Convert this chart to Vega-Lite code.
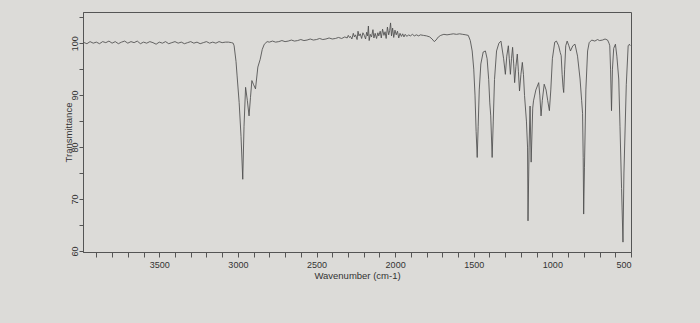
{
  "$schema": "https://vega.github.io/schema/vega-lite/v6.json",
  "width": 548,
  "height": 240,
  "autosize": {"type": "none"},
  "padding": {"left": 83, "top": 12, "right": 69, "bottom": 71},
  "background": "#dcdbd8",
  "config": {"view": {"stroke": "#555555", "strokeWidth": 1}, "font": "Liberation Sans"},
  "data": {"values": [
    {"wn": 3985, "t": 100.2}, {"wn": 3960, "t": 99.9}, {"wn": 3940, "t": 100.3}, {"wn": 3920, "t": 100.0}, {"wn": 3900, "t": 100.2},
    {"wn": 3880, "t": 99.9}, {"wn": 3860, "t": 100.3}, {"wn": 3840, "t": 100.1}, {"wn": 3820, "t": 100.4}, {"wn": 3800, "t": 100.0},
    {"wn": 3780, "t": 100.3}, {"wn": 3760, "t": 99.9}, {"wn": 3740, "t": 100.2}, {"wn": 3720, "t": 100.4}, {"wn": 3700, "t": 100.0},
    {"wn": 3680, "t": 100.3}, {"wn": 3660, "t": 100.1}, {"wn": 3640, "t": 100.4}, {"wn": 3620, "t": 99.9}, {"wn": 3600, "t": 100.2},
    {"wn": 3580, "t": 100.0}, {"wn": 3560, "t": 100.3}, {"wn": 3540, "t": 100.1}, {"wn": 3520, "t": 99.8}, {"wn": 3500, "t": 100.2},
    {"wn": 3480, "t": 100.0}, {"wn": 3460, "t": 100.3}, {"wn": 3440, "t": 99.9}, {"wn": 3420, "t": 100.1}, {"wn": 3400, "t": 100.3},
    {"wn": 3380, "t": 100.0}, {"wn": 3360, "t": 100.2}, {"wn": 3340, "t": 99.9}, {"wn": 3320, "t": 100.1}, {"wn": 3300, "t": 100.3},
    {"wn": 3280, "t": 100.0}, {"wn": 3260, "t": 100.2}, {"wn": 3240, "t": 99.9}, {"wn": 3220, "t": 100.1}, {"wn": 3200, "t": 100.3},
    {"wn": 3180, "t": 100.0}, {"wn": 3160, "t": 100.2}, {"wn": 3140, "t": 100.0}, {"wn": 3120, "t": 100.3}, {"wn": 3100, "t": 100.1},
    {"wn": 3080, "t": 100.2}, {"wn": 3060, "t": 100.2}, {"wn": 3040, "t": 100.1}, {"wn": 3030, "t": 100.0},
    {"wn": 3024, "t": 99.5}, {"wn": 3012, "t": 96.5}, {"wn": 3005, "t": 93.7}, {"wn": 2992, "t": 88.6}, {"wn": 2980, "t": 82.0},
    {"wn": 2969, "t": 73.8}, {"wn": 2961, "t": 84.0}, {"wn": 2951, "t": 91.5}, {"wn": 2940, "t": 89.0}, {"wn": 2929, "t": 86.0},
    {"wn": 2920, "t": 89.5}, {"wn": 2911, "t": 92.8}, {"wn": 2900, "t": 92.0}, {"wn": 2888, "t": 91.2}, {"wn": 2873, "t": 95.4},
    {"wn": 2858, "t": 96.9}, {"wn": 2845, "t": 98.8}, {"wn": 2832, "t": 99.8}, {"wn": 2814, "t": 100.3},
    {"wn": 2800, "t": 100.2}, {"wn": 2780, "t": 100.4}, {"wn": 2760, "t": 100.2}, {"wn": 2740, "t": 100.3}, {"wn": 2720, "t": 100.5},
    {"wn": 2700, "t": 100.3}, {"wn": 2680, "t": 100.4}, {"wn": 2660, "t": 100.6}, {"wn": 2640, "t": 100.4}, {"wn": 2620, "t": 100.5},
    {"wn": 2600, "t": 100.7}, {"wn": 2580, "t": 100.5}, {"wn": 2560, "t": 100.6}, {"wn": 2540, "t": 100.8}, {"wn": 2520, "t": 100.6},
    {"wn": 2500, "t": 100.7}, {"wn": 2480, "t": 100.9}, {"wn": 2460, "t": 100.7}, {"wn": 2440, "t": 100.8}, {"wn": 2420, "t": 101.0},
    {"wn": 2400, "t": 100.8}, {"wn": 2380, "t": 100.9}, {"wn": 2360, "t": 101.1}, {"wn": 2340, "t": 100.9}, {"wn": 2320, "t": 101.2},
    {"wn": 2305, "t": 101.0},
    {"wn": 2298, "t": 101.5}, {"wn": 2290, "t": 101.1}, {"wn": 2284, "t": 101.3}, {"wn": 2275, "t": 100.8}, {"wn": 2266, "t": 101.9},
    {"wn": 2259, "t": 101.2}, {"wn": 2252, "t": 101.6}, {"wn": 2242, "t": 100.7}, {"wn": 2236, "t": 102.3}, {"wn": 2230, "t": 101.4},
    {"wn": 2222, "t": 101.8}, {"wn": 2213, "t": 100.9}, {"wn": 2205, "t": 102.0}, {"wn": 2196, "t": 101.5}, {"wn": 2188, "t": 100.8},
    {"wn": 2181, "t": 102.1}, {"wn": 2175, "t": 101.4}, {"wn": 2170, "t": 103.3}, {"wn": 2165, "t": 100.5}, {"wn": 2158, "t": 101.7},
    {"wn": 2150, "t": 101.2}, {"wn": 2141, "t": 102.6}, {"wn": 2135, "t": 101.0}, {"wn": 2127, "t": 101.9}, {"wn": 2118, "t": 100.9},
    {"wn": 2110, "t": 102.0}, {"wn": 2104, "t": 101.4}, {"wn": 2095, "t": 102.3}, {"wn": 2088, "t": 101.0}, {"wn": 2080, "t": 102.7},
    {"wn": 2071, "t": 101.5}, {"wn": 2064, "t": 102.2}, {"wn": 2057, "t": 100.9}, {"wn": 2049, "t": 103.1}, {"wn": 2041, "t": 101.6},
    {"wn": 2035, "t": 102.4}, {"wn": 2029, "t": 103.9}, {"wn": 2023, "t": 101.4}, {"wn": 2016, "t": 102.9}, {"wn": 2009, "t": 101.1},
    {"wn": 2001, "t": 102.5}, {"wn": 1993, "t": 101.6}, {"wn": 1985, "t": 102.3}, {"wn": 1977, "t": 101.0}, {"wn": 1969, "t": 101.9},
    {"wn": 1960, "t": 101.3}, {"wn": 1952, "t": 101.8}, {"wn": 1944, "t": 101.2}, {"wn": 1936, "t": 101.7}, {"wn": 1925, "t": 101.3},
    {"wn": 1915, "t": 101.6}, {"wn": 1903, "t": 101.4}, {"wn": 1890, "t": 101.7}, {"wn": 1878, "t": 101.4}, {"wn": 1865, "t": 101.6},
    {"wn": 1850, "t": 101.4}, {"wn": 1840, "t": 101.6}, {"wn": 1820, "t": 101.5}, {"wn": 1800, "t": 101.4}, {"wn": 1780, "t": 101.2},
    {"wn": 1765, "t": 100.8}, {"wn": 1751, "t": 100.3}, {"wn": 1740, "t": 100.6}, {"wn": 1725, "t": 101.2}, {"wn": 1710, "t": 101.5},
    {"wn": 1690, "t": 101.7}, {"wn": 1670, "t": 101.6}, {"wn": 1650, "t": 101.7}, {"wn": 1630, "t": 101.8}, {"wn": 1610, "t": 101.7},
    {"wn": 1590, "t": 101.8}, {"wn": 1570, "t": 101.7}, {"wn": 1550, "t": 101.6}, {"wn": 1535, "t": 101.5}, {"wn": 1522, "t": 100.5},
    {"wn": 1510, "t": 98.5}, {"wn": 1500, "t": 95.0}, {"wn": 1492, "t": 90.0}, {"wn": 1485, "t": 83.0}, {"wn": 1478, "t": 78.0},
    {"wn": 1472, "t": 84.0}, {"wn": 1465, "t": 91.0}, {"wn": 1455, "t": 96.0}, {"wn": 1440, "t": 98.3}, {"wn": 1426, "t": 98.5},
    {"wn": 1415, "t": 97.0}, {"wn": 1405, "t": 93.0}, {"wn": 1398, "t": 88.5}, {"wn": 1392, "t": 86.0}, {"wn": 1383, "t": 78.0},
    {"wn": 1376, "t": 85.0}, {"wn": 1368, "t": 93.0}, {"wn": 1355, "t": 98.5}, {"wn": 1340, "t": 100.0}, {"wn": 1327, "t": 100.4},
    {"wn": 1310, "t": 97.0}, {"wn": 1299, "t": 94.0}, {"wn": 1290, "t": 97.5}, {"wn": 1280, "t": 99.5}, {"wn": 1274, "t": 97.0},
    {"wn": 1267, "t": 94.0}, {"wn": 1260, "t": 97.0}, {"wn": 1253, "t": 99.2}, {"wn": 1246, "t": 96.0}, {"wn": 1240, "t": 92.4},
    {"wn": 1232, "t": 95.5}, {"wn": 1223, "t": 97.9}, {"wn": 1216, "t": 94.5}, {"wn": 1209, "t": 90.8}, {"wn": 1200, "t": 94.0},
    {"wn": 1191, "t": 96.3}, {"wn": 1184, "t": 94.0}, {"wn": 1177, "t": 89.9}, {"wn": 1165, "t": 85.0}, {"wn": 1158, "t": 80.0},
    {"wn": 1155, "t": 65.8}, {"wn": 1148, "t": 80.0}, {"wn": 1142, "t": 87.9}, {"wn": 1135, "t": 77.1}, {"wn": 1125, "t": 87.5},
    {"wn": 1120, "t": 88.9}, {"wn": 1105, "t": 91.0}, {"wn": 1087, "t": 92.4}, {"wn": 1080, "t": 90.0}, {"wn": 1072, "t": 86.0},
    {"wn": 1064, "t": 89.0}, {"wn": 1052, "t": 92.1}, {"wn": 1040, "t": 91.0}, {"wn": 1030, "t": 89.0}, {"wn": 1019, "t": 87.0},
    {"wn": 1010, "t": 91.0}, {"wn": 1000, "t": 97.0}, {"wn": 985, "t": 100.2}, {"wn": 974, "t": 100.4}, {"wn": 960, "t": 99.5},
    {"wn": 950, "t": 98.2}, {"wn": 944, "t": 97.6}, {"wn": 938, "t": 94.0}, {"wn": 932, "t": 91.5}, {"wn": 928, "t": 90.5},
    {"wn": 922, "t": 95.0}, {"wn": 915, "t": 99.5}, {"wn": 906, "t": 100.4}, {"wn": 895, "t": 99.5}, {"wn": 885, "t": 98.5},
    {"wn": 870, "t": 99.5}, {"wn": 856, "t": 99.8}, {"wn": 840, "t": 97.5}, {"wn": 824, "t": 93.1}, {"wn": 814, "t": 89.0},
    {"wn": 808, "t": 86.5}, {"wn": 804, "t": 78.0}, {"wn": 801, "t": 67.1}, {"wn": 796, "t": 76.0}, {"wn": 787, "t": 91.0},
    {"wn": 776, "t": 98.5}, {"wn": 766, "t": 100.1}, {"wn": 750, "t": 100.6}, {"wn": 730, "t": 100.4}, {"wn": 713, "t": 100.7},
    {"wn": 700, "t": 100.5}, {"wn": 681, "t": 100.6}, {"wn": 665, "t": 100.8}, {"wn": 649, "t": 100.6}, {"wn": 640, "t": 100.0},
    {"wn": 635, "t": 99.5}, {"wn": 630, "t": 95.0}, {"wn": 624, "t": 87.0}, {"wn": 618, "t": 95.0}, {"wn": 610, "t": 99.0},
    {"wn": 599, "t": 99.8}, {"wn": 590, "t": 97.5}, {"wn": 578, "t": 93.1}, {"wn": 570, "t": 84.0}, {"wn": 560, "t": 72.0},
    {"wn": 551, "t": 61.7}, {"wn": 545, "t": 75.0}, {"wn": 530, "t": 92.0}, {"wn": 518, "t": 99.5}, {"wn": 510, "t": 99.8},
    {"wn": 505, "t": 99.5}
  ]},
  "mark": {"type": "line", "color": "#4d4d4d", "strokeWidth": 0.85, "interpolate": "linear"},
  "encoding": {
    "x": {
      "field": "wn", "type": "quantitative",
      "scale": {"domain": [3985, 500], "nice": false, "zero": false},
      "axis": {
        "title": "Wavenumber (cm-1)",
        "values": [3900, 3800, 3700, 3600, 3500, 3400, 3300, 3200, 3100, 3000, 2900, 2800, 2700, 2600, 2500, 2400, 2300, 2200, 2100, 2000, 1900, 1800, 1700, 1600, 1500, 1400, 1300, 1200, 1100, 1000, 900, 800, 700, 600, 500],
        "labelExpr": "datum.value % 500 == 0 ? datum.label : ''",
        "format": "d", "grid": false, "tickSize": 5,
        "domainColor": "#555555", "tickColor": "#555555",
        "labelColor": "#333333", "labelFontSize": 9, "labelPadding": 3,
        "titleColor": "#333333", "titleFontSize": 9.5, "titleFontWeight": "normal", "titlePadding": 1
      }
    },
    "y": {
      "field": "t", "type": "quantitative",
      "scale": {"domain": [59.8, 106], "nice": false, "zero": false},
      "axis": {
        "title": "Transmittance",
        "values": [60, 65, 70, 75, 80, 85, 90, 95, 100, 105],
        "labelExpr": "datum.value % 10 == 0 ? datum.label : ''",
        "grid": false, "tickSize": 4,
        "labelAngle": -90, "labelAlign": "center", "labelBaseline": "bottom", "labelPadding": 0,
        "domainColor": "#555555", "tickColor": "#555555",
        "labelColor": "#333333", "labelFontSize": 9,
        "titleColor": "#333333", "titleFontSize": 9.5, "titleFontWeight": "normal", "titlePadding": -3
      }
    }
  }
}
